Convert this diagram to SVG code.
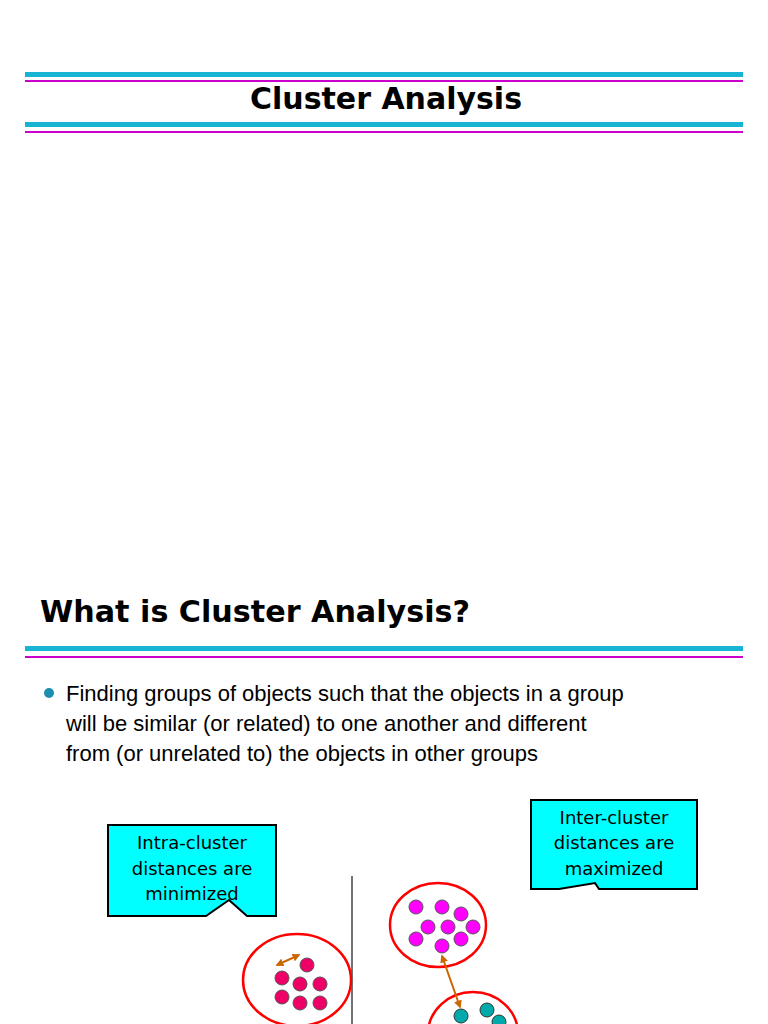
<svg xmlns="http://www.w3.org/2000/svg" width="768" height="1024" viewBox="0 0 768 1024">
<style>
.cy{fill:#18b4d4}.mg{fill:#cc00cc}
.t{font-family:"DejaVu Sans",Verdana,sans-serif;font-weight:bold;fill:#000}
.b{font-family:"Liberation Sans",Arial,sans-serif;font-size:22px;fill:#000}
.c{font-family:"DejaVu Sans",Verdana,sans-serif;font-size:18px;fill:#000;text-anchor:middle}
.box{fill:#00ffff;stroke:#000;stroke-width:2}
.ring{fill:none;stroke:#ff0000;stroke-width:2.5}
.r{fill:#ee0066;stroke:#555;stroke-width:1}
.m{fill:#ff00ff;stroke:#555;stroke-width:1}
.g{fill:#00aaaa;stroke:#333;stroke-width:1}
.ar{stroke:#cc6600;stroke-width:2;fill:none;marker-start:url(#a);marker-end:url(#a)}
</style>
<defs><marker id="a" viewBox="0 0 10 10" refX="8" refY="5" markerWidth="4" markerHeight="4" orient="auto-start-reverse"><path d="M0,0L10,5L0,10z" fill="#cc6600"/></marker></defs>
<rect width="768" height="1024" fill="#fff"/>
<g id="header">
<rect class="cy" x="25" y="72" width="718" height="5"/><rect class="mg" x="25" y="80" width="718" height="2"/>
<rect class="cy" x="25" y="122" width="718" height="5"/><rect class="mg" x="25" y="131" width="718" height="2"/>
<text class="t" x="386" y="109" font-size="30" text-anchor="middle" textLength="272" lengthAdjust="spacingAndGlyphs">Cluster Analysis</text>
</g>
<g id="slide2">
<text class="t" x="40" y="622" font-size="31" textLength="430" lengthAdjust="spacingAndGlyphs">What is Cluster Analysis?</text>
<rect class="cy" x="25" y="646" width="718" height="5"/><rect class="mg" x="25" y="656" width="718" height="2"/>
<circle cx="49" cy="693" r="5" fill="#1a8fb0"/>
<text class="b" x="66" y="701">Finding groups of objects such that the objects in a group</text>
<text class="b" x="66" y="731">will be similar (or related) to one another and different</text>
<text class="b" x="66" y="761">from (or unrelated to) the objects in other groups</text>
</g>
<g id="intra">
<path class="box" d="M108,825H276V916H247L229,900L206,916H108Z"/>
<text class="c" x="192" y="849">Intra-cluster</text>
<text class="c" x="192" y="875">distances are</text>
<text class="c" x="192" y="900">minimized</text>
</g>
<g id="inter">
<path class="box" d="M531,800H697V889H599L595,883L559,889H531Z"/>
<text class="c" x="614" y="824">Inter-cluster</text>
<text class="c" x="614" y="849">distances are</text>
<text class="c" x="614" y="875">maximized</text>
</g>
<line x1="352" y1="876" x2="352" y2="1024" stroke="#444" stroke-width="1.5"/>
<g id="cluster-red">
<ellipse class="ring" cx="297" cy="980" rx="54" ry="46"/>
<circle class="r" cx="307" cy="965" r="7"/><circle class="r" cx="282" cy="978" r="7"/><circle class="r" cx="300" cy="984" r="7"/><circle class="r" cx="320" cy="984" r="7"/><circle class="r" cx="282" cy="997" r="7"/><circle class="r" cx="300" cy="1003" r="7"/><circle class="r" cx="320" cy="1003" r="7"/>
</g>
<g id="cluster-magenta">
<ellipse class="ring" cx="438" cy="925" rx="48" ry="42"/>
<circle class="m" cx="416" cy="907" r="7"/><circle class="m" cx="442" cy="907" r="7"/><circle class="m" cx="461" cy="914" r="7"/><circle class="m" cx="428" cy="927" r="7"/><circle class="m" cx="448" cy="927" r="7"/><circle class="m" cx="473" cy="927" r="7"/><circle class="m" cx="416" cy="939" r="7"/><circle class="m" cx="461" cy="939" r="7"/><circle class="m" cx="442" cy="946" r="7"/>
</g>
<g id="cluster-teal">
<ellipse class="ring" cx="473" cy="1034" rx="45" ry="42"/>
<circle class="g" cx="461" cy="1016" r="7"/><circle class="g" cx="487" cy="1010" r="7"/><circle class="g" cx="499" cy="1022" r="7"/>
</g>
<g id="connectors">
<line class="ar" x1="277" y1="965" x2="299" y2="955"/>
<line class="ar" x1="442" y1="956" x2="460" y2="1007"/>
</g>
</svg>
